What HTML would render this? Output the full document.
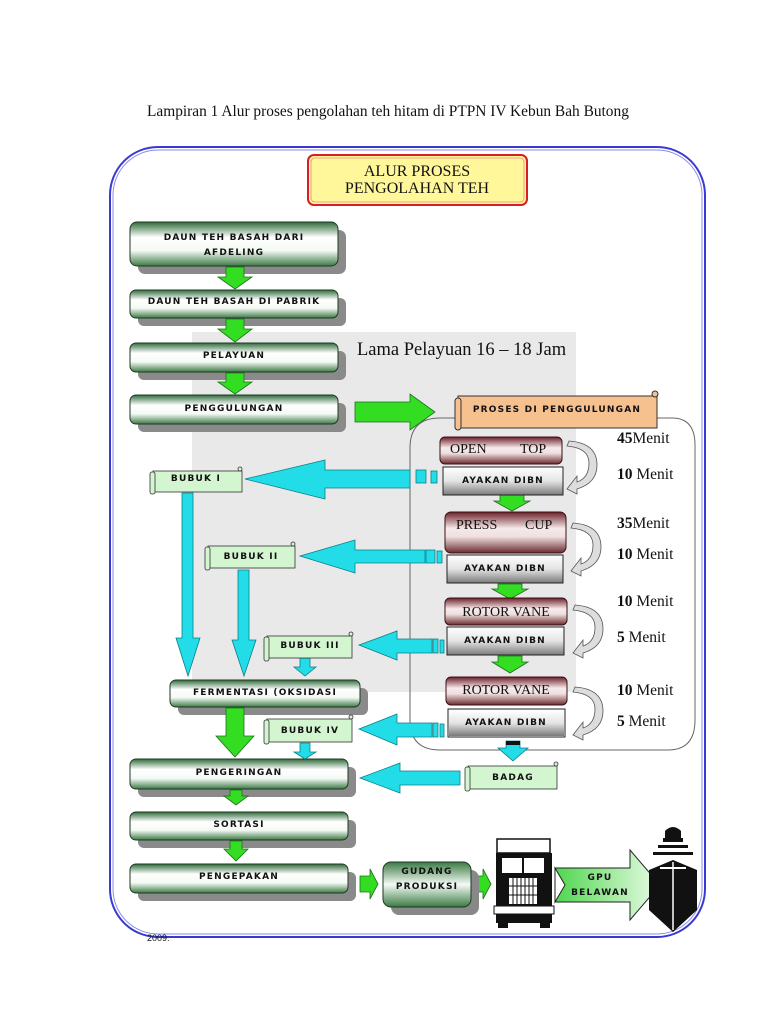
<!DOCTYPE html>
<html><head><meta charset="utf-8"><style>
html,body{margin:0;padding:0;background:#fff;}
svg{display:block}
.lb{font-family:"DejaVu Sans","Liberation Sans",sans-serif;font-weight:bold;font-size:9px;letter-spacing:1.2px;fill:#111}
.sf{font-family:"Liberation Serif",serif;fill:#111}
</style></head><body>
<svg width="768" height="1024" viewBox="0 0 768 1024" xmlns="http://www.w3.org/2000/svg">
<defs>
<linearGradient id="g" x1="0" y1="0" x2="0" y2="1">
<stop offset="0" stop-color="#2f6b3a"/><stop offset="0.35" stop-color="#ffffff"/><stop offset="0.65" stop-color="#f4faf4"/><stop offset="1" stop-color="#3d7a45"/></linearGradient>
<linearGradient id="m" x1="0" y1="0" x2="0" y2="1">
<stop offset="0" stop-color="#6b1f28"/><stop offset="0.4" stop-color="#f6eaea"/><stop offset="0.6" stop-color="#f0e0e0"/><stop offset="1" stop-color="#6b2a2f"/></linearGradient>
<linearGradient id="gr" x1="0" y1="0" x2="0" y2="1">
<stop offset="0" stop-color="#ffffff"/><stop offset="0.5" stop-color="#e4e4e4"/><stop offset="1" stop-color="#7a7a7a"/></linearGradient>
<linearGradient id="gp" x1="0" y1="0" x2="1" y2="0">
<stop offset="0" stop-color="#4fd64f"/><stop offset="1" stop-color="#eafce8"/></linearGradient>
<linearGradient id="gd" x1="0" y1="0" x2="0" y2="1">
<stop offset="0" stop-color="#3a7a43"/><stop offset="0.5" stop-color="#f5fbf5"/><stop offset="1" stop-color="#3a7a43"/></linearGradient>
</defs>

<text x="147" y="116" class="sf" font-size="15.4">Lampiran 1 Alur proses pengolahan teh hitam di PTPN IV Kebun Bah Butong</text>

<!-- frame -->
<rect x="110" y="147" width="595" height="790" rx="48" fill="none" stroke="#3a3ad0" stroke-width="2"/>
<rect x="113" y="150" width="589" height="784" rx="45" fill="none" stroke="#8a8af0" stroke-width="1"/>

<!-- gray -->
<rect x="192" y="332" width="384" height="360" fill="#e9e9e9"/>

<!-- title -->
<rect x="308" y="155" width="219" height="50" rx="6" fill="#fff79a" stroke="#d52020" stroke-width="2"/>
<rect x="311" y="158" width="213" height="44" rx="4" fill="none" stroke="#e88" stroke-width="0.8"/>
<text x="417" y="176" class="sf" font-size="16" text-anchor="middle">ALUR PROSES</text>
<text x="417" y="193" class="sf" font-size="16" text-anchor="middle">PENGOLAHAN TEH</text>

<text x="357" y="355" class="sf" font-size="18.5">Lama Pelayuan 16 – 18 Jam</text>

<!-- green boxes with shadows -->
<g>
<rect x="138" y="230" width="208" height="44" rx="7" fill="#8a8a8a"/>
<rect x="130" y="222" width="208" height="44" rx="7" fill="url(#g)" stroke="#1e3a22"/>
<text x="234" y="240" class="lb" text-anchor="middle">DAUN TEH BASAH DARI</text>
<text x="234" y="255" class="lb" text-anchor="middle">AFDELING</text>

<rect x="138" y="298" width="208" height="28" rx="6" fill="#8a8a8a"/>
<rect x="130" y="290" width="208" height="28" rx="6" fill="url(#g)" stroke="#1e3a22"/>
<text x="234" y="304" class="lb" text-anchor="middle">DAUN TEH BASAH DI PABRIK</text>

<rect x="138" y="351" width="208" height="29" rx="6" fill="#8a8a8a"/>
<rect x="130" y="343" width="208" height="29" rx="6" fill="url(#g)" stroke="#1e3a22"/>
<text x="234" y="358" class="lb" text-anchor="middle">PELAYUAN</text>

<rect x="138" y="403" width="208" height="29" rx="6" fill="#8a8a8a"/>
<rect x="130" y="395" width="208" height="29" rx="6" fill="url(#g)" stroke="#1e3a22"/>
<text x="234" y="411" class="lb" text-anchor="middle">PENGGULUNGAN</text>

<rect x="178" y="688" width="190" height="27" rx="6" fill="#8a8a8a"/>
<rect x="170" y="680" width="190" height="27" rx="6" fill="url(#g)" stroke="#1e3a22"/>
<text x="265" y="695" class="lb" text-anchor="middle">FERMENTASI (OKSIDASI</text>

<rect x="138" y="767" width="218" height="30" rx="6" fill="#8a8a8a"/>
<rect x="130" y="759" width="218" height="30" rx="6" fill="url(#g)" stroke="#1e3a22"/>
<text x="239" y="775" class="lb" text-anchor="middle">PENGERINGAN</text>

<rect x="138" y="820" width="218" height="28" rx="6" fill="#8a8a8a"/>
<rect x="130" y="812" width="218" height="28" rx="6" fill="url(#g)" stroke="#1e3a22"/>
<text x="239" y="827" class="lb" text-anchor="middle">SORTASI</text>

<rect x="138" y="872" width="218" height="29" rx="6" fill="#8a8a8a"/>
<rect x="130" y="864" width="218" height="29" rx="6" fill="url(#g)" stroke="#1e3a22"/>
<text x="239" y="879" class="lb" text-anchor="middle">PENGEPAKAN</text>
</g>

<!-- green down arrows -->
<g fill="#33dd22" stroke="#1e6e1e" stroke-width="0.8">
<path d="M226 267h18v10h8l-17 12l-17-12h8z"/>
<path d="M226 319h18v10h8l-17 13l-17-13h8z"/>
<path d="M226 373h18v9h8l-17 12l-17-12h8z"/>
<path d="M226 708h18v28h10l-19 21l-19-21h10z"/>
<path d="M230 790h12v6h6l-12 9l-12-9h6z"/>
<path d="M230 841h12v8h6l-12 12l-12-12h6z"/>
<path d="M355 402h55v-8l25 18l-25 18v-8h-55z"/>
<path d="M360 876h10v-7l8 15l-8 15v-7h-10z"/>
<path d="M473 876h10v-7l8 15l-8 15v-7h-10z"/>
<path d="M500 495h24v6h6l-18 10l-18-10h6z"/>
<path d="M498 584h24v5h6l-18 10l-18-10h6z"/>
<path d="M498 656h24v6h6l-18 11l-18-11h6z"/>
</g>

<!-- panel -->
<path d="M440 418 H672 Q695 418 695 445 V720 Q695 750 668 750 H440 Q410 750 410 720 V448 Q410 418 440 418 Z" fill="none" stroke="#666" stroke-width="1"/>

<!-- scroll -->
<rect x="458" y="396" width="199" height="32" fill="#f7c08f" stroke="#333"/>
<rect x="455" y="398" width="6" height="32" rx="3" fill="#f7c08f" stroke="#333"/>
<circle cx="655" cy="394" r="3" fill="#f7c08f" stroke="#333"/>
<text x="557" y="412" class="lb" text-anchor="middle">PROSES DI PENGGULUNGAN</text>

<!-- maroon + gray boxes -->
<rect x="440" y="437" width="122" height="27" rx="5" fill="url(#m)" stroke="#3a1015"/>
<text x="450" y="453" class="sf" font-size="14">OPEN</text><text x="520" y="453" class="sf" font-size="14">TOP</text>
<rect x="443" y="467" width="120" height="28" fill="url(#gr)" stroke="#222"/>
<text x="503" y="483" class="lb" text-anchor="middle">AYAKAN DIBN</text>

<rect x="445" y="512" width="121" height="41" rx="6" fill="url(#m)" stroke="#3a1015"/>
<text x="456" y="529" class="sf" font-size="14">PRESS</text><text x="525" y="529" class="sf" font-size="14">CUP</text>
<rect x="447" y="555" width="116" height="28" fill="url(#gr)" stroke="#222"/>
<text x="505" y="571" class="lb" text-anchor="middle">AYAKAN DIBN</text>

<rect x="445" y="598" width="122" height="27" rx="5" fill="url(#m)" stroke="#3a1015"/>
<text x="506" y="616" class="sf" font-size="14" text-anchor="middle">ROTOR VANE</text>
<rect x="447" y="627" width="117" height="28" fill="url(#gr)" stroke="#222"/>
<text x="505" y="643" class="lb" text-anchor="middle">AYAKAN DIBN</text>

<rect x="446" y="677" width="121" height="28" rx="5" fill="url(#m)" stroke="#3a1015"/>
<text x="506" y="694" class="sf" font-size="14" text-anchor="middle">ROTOR VANE</text>
<rect x="448" y="709" width="117" height="28" fill="#fff" stroke="#222"/>
<rect x="449" y="710" width="115" height="26" fill="url(#gr)"/>
<text x="506" y="725" class="lb" text-anchor="middle">AYAKAN DIBN</text>

<!-- curved arrows -->
<g fill="#ddd" stroke="#555" stroke-width="0.8">
<path d="M567 446 q22 2 22 17 q0 15 -12 19 l0 -6 l-10 13 l10 5 l0 -5 q20 -6 20 -24 q0 -22 -28 -24 z"/>
<path d="M571 528 q22 2 22 17 q0 15 -12 19 l0 -6 l-10 13 l10 5 l0 -5 q20 -6 20 -24 q0 -22 -28 -24 z"/>
<path d="M573 610 q22 2 22 17 q0 15 -12 19 l0 -6 l-10 13 l10 5 l0 -5 q20 -6 20 -24 q0 -22 -28 -24 z"/>
<path d="M573 692 q22 2 22 17 q0 15 -12 19 l0 -6 l-10 13 l10 5 l0 -5 q20 -6 20 -24 q0 -22 -28 -24 z"/>
</g>

<g class="sf" font-size="15.5" font-weight="bold">
<text x="617" y="443">45<tspan font-weight="normal">Menit</tspan></text>
<text x="617" y="479">10 <tspan font-weight="normal">Menit</tspan></text>
<text x="617" y="528">35<tspan font-weight="normal">Menit</tspan></text>
<text x="617" y="559">10 <tspan font-weight="normal">Menit</tspan></text>
<text x="617" y="606">10 <tspan font-weight="normal">Menit</tspan></text>
<text x="617" y="642">5 <tspan font-weight="normal">Menit</tspan></text>
<text x="617" y="695">10 <tspan font-weight="normal">Menit</tspan></text>
<text x="617" y="726">5 <tspan font-weight="normal">Menit</tspan></text>
</g>

<!-- cyan arrows -->
<g fill="#22dde8" stroke="#0d7f88" stroke-width="0.8">
<path d="M410 470v18h-85v11l-80 -20l80 -19v10z"/>
<rect x="416" y="470" width="10" height="13"/><rect x="431" y="471" width="6" height="12"/>
<path d="M425 550v13h-70v10l-55 -17l55 -16v10z"/>
<rect x="426" y="550" width="9" height="13"/><rect x="437" y="551" width="5" height="12"/>
<path d="M432 639v14h-35v7l-38 -15l38 -14v8z"/>
<rect x="433" y="639" width="5" height="14"/><rect x="440" y="640" width="4" height="13"/>
<path d="M432 723v14h-35v8l-38 -16l38 -15v9z"/>
<rect x="433" y="723" width="5" height="14"/><rect x="440" y="724" width="4" height="13"/>
<path d="M460 771v14h-60v8l-40 -15l40 -15v8z"/>
<path d="M182 493h11v145h7l-12 38l-12-38h6z"/>
<path d="M238 570h11v70h7l-12 36l-12-36h6z"/>
<path d="M300 658h10v9h6l-11 9l-11-9h6z"/>
<path d="M300 743h10v9h6l-11 7l-11-7h6z"/>
<path d="M506 741h14v7h8l-15 13l-15-13h8z"/>
</g>
<rect x="506" y="741" width="14" height="4" fill="#111"/>

<!-- bubuk scrolls -->
<g fill="#d3f5d0" stroke="#333" stroke-width="0.8">
<rect x="153" y="471" width="89" height="21"/><rect x="150" y="472" width="5" height="22" rx="2"/><circle cx="240" cy="469" r="2"/>
<rect x="208" y="546" width="87" height="22"/><rect x="205" y="547" width="5" height="23" rx="2"/><circle cx="293" cy="544" r="2"/>
<rect x="267" y="636" width="85" height="22"/><rect x="264" y="637" width="5" height="24" rx="2"/><circle cx="351" cy="634" r="2"/>
<rect x="267" y="719" width="85" height="23"/><rect x="264" y="720" width="5" height="24" rx="2"/><circle cx="351" cy="717" r="2"/>
<rect x="468" y="766" width="89" height="23"/><rect x="465" y="767" width="5" height="24" rx="2"/><circle cx="556" cy="764" r="2"/>
</g>
<text x="196" y="481" class="lb" text-anchor="middle">BUBUK I</text>
<text x="251" y="559" class="lb" text-anchor="middle">BUBUK II</text>
<text x="310" y="648" class="lb" text-anchor="middle">BUBUK III</text>
<text x="310" y="733" class="lb" text-anchor="middle">BUBUK IV</text>
<text x="513" y="780" class="lb" text-anchor="middle">BADAG</text>

<!-- gudang -->
<rect x="391" y="870" width="88" height="45" rx="8" fill="#888"/>
<rect x="383" y="862" width="88" height="45" rx="8" fill="url(#gd)" stroke="#1e3a22"/>
<text x="427" y="874" class="lb" text-anchor="middle">GUDANG</text>
<text x="427" y="889" class="lb" text-anchor="middle">PRODUKSI</text>

<!-- GPU arrow -->
<path d="M555 868h75v-18l30 35l-30 35v-18h-75z" fill="url(#gp)" stroke="#222"/>
<path d="M555 868l10 17l-10 17z" fill="#fff" stroke="#222"/>
<text x="600" y="880" class="lb" text-anchor="middle">GPU</text>
<text x="600" y="895" class="lb" text-anchor="middle">BELAWAN</text>

<!-- truck -->
<g>
<rect x="497" y="839" width="53" height="14" fill="#fff" stroke="#111" stroke-width="1.5"/>
<path d="M496 853h56v70h-56z" fill="#111"/>
<rect x="502" y="858" width="42" height="15" fill="#fff"/>
<line x1="523" y1="858" x2="523" y2="873" stroke="#111" stroke-width="2"/>
<rect x="509" y="878" width="28" height="26" fill="#fff"/>
<g stroke="#111" stroke-width="1"><line x1="513" y1="878" x2="513" y2="904"/><line x1="517" y1="878" x2="517" y2="904"/><line x1="521" y1="878" x2="521" y2="904"/><line x1="525" y1="878" x2="525" y2="904"/><line x1="529" y1="878" x2="529" y2="904"/><line x1="533" y1="878" x2="533" y2="904"/><line x1="509" y1="886" x2="537" y2="886"/><line x1="509" y1="895" x2="537" y2="895"/></g>
<rect x="494" y="906" width="60" height="8" fill="#fff" stroke="#111"/>
<rect x="498" y="915" width="10" height="13" fill="#111"/><rect x="540" y="915" width="10" height="13" fill="#111"/>
</g>

<!-- ship -->
<g fill="#111">
<path d="M665 838h16v-7q-8 -8 -16 0z"/>
<rect x="663" y="838" width="20" height="4"/>
<rect x="658" y="845" width="30" height="3"/>
<rect x="653" y="852" width="40" height="3"/>
<path d="M649 870l24 -10l24 10l0 40l-24 22l-24 -22z"/>
<path d="M660 868h26" stroke="#fff" stroke-width="2"/>
<line x1="673" y1="862" x2="673" y2="930" stroke="#fff" stroke-width="1.5"/>
</g>

<text x="147" y="941" font-family="Liberation Sans,sans-serif" font-size="9" fill="#111">2009.</text>
</svg>
</body></html>
